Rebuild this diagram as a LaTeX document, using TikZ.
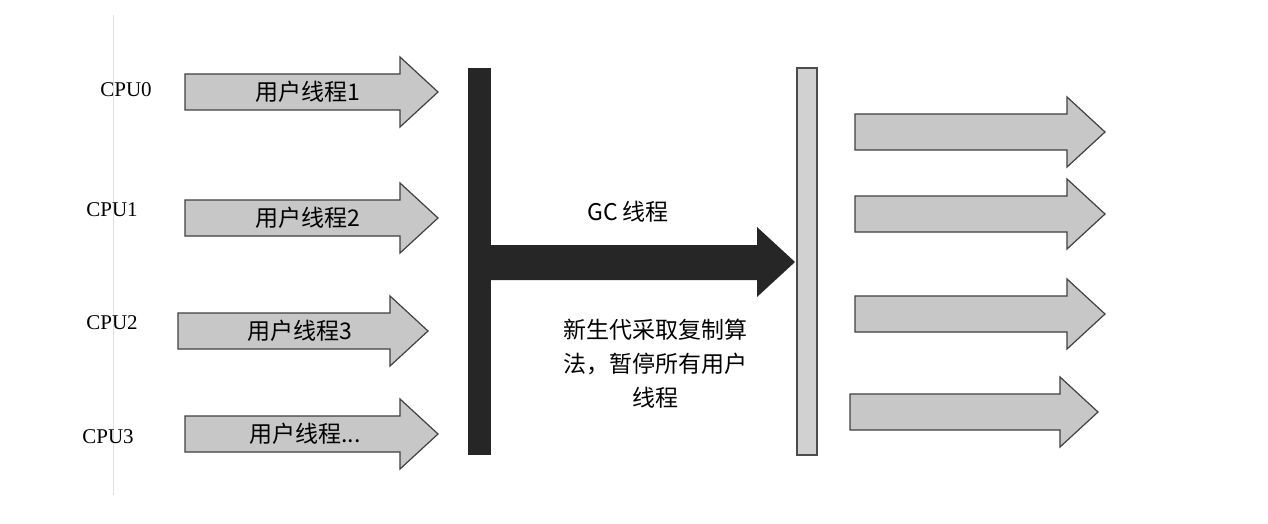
\documentclass[tikz,border=0pt]{standalone}
\usepackage{fontspec}
\setmainfont{Liberation Serif}
\newfontfamily\cjk{Noto Sans CJK SC}
\begin{document}
\begin{tikzpicture}[x=1pt,y=-1pt,
  garrow/.style={fill=black!22,draw=black!75,line width=1.2pt},
  lbl/.style={font=\cjk\fontsize{23}{26}\selectfont,inner sep=0},
  cpu/.style={font=\fontsize{21}{23}\selectfont,inner sep=0}]
\useasboundingbox (0,0) rectangle (1268,524);
\fill[white] (0,0) rectangle (1268,524);
\draw[black!12,line width=1pt] (113,15) -- (113,495);
\newcommand\garr[3]{\draw[garrow] (#1,#3-18) -- (#2-38,#3-18) -- (#2-38,#3-35) -- (#2,#3) -- (#2-38,#3+35) -- (#2-38,#3+18) -- (#1,#3+18) -- cycle;}
\garr{185}{438}{92}
\garr{185}{438}{218}
\garr{178}{428}{331}
\garr{185}{438}{434}
\garr{855}{1105}{132}
\garr{855}{1105}{214}
\garr{855}{1105}{314}
\garr{850}{1098}{412}
\node[cpu] (c0) at (126,90) {CPU0};
\node[cpu] (c1) at (112,210) {CPU1};
\node[cpu] (c2) at (112,323) {CPU2};
\node[cpu] (c3) at (108,437) {CPU3};
\node[lbl] (t1) at (308,92) {用户线程1};
\node[lbl] (t2) at (308,218) {用户线程2};
\node[lbl] (t3) at (300,331) {用户线程3};
\node[lbl] (t4) at (305,434) {用户线程...};
\fill[black!85] (468,68) rectangle (491,455);
\draw[fill=black!18,draw=black!70,line width=1.2pt] (797,68) rectangle (817,455);
\fill[black!85] (491,245) -- (757,245) -- (757,227) -- (795,262) -- (757,297) -- (757,280) -- (491,280) -- cycle;
\node[lbl] (gc) at (628,212) {GC 线程};
\node[lbl,align=center,font=\cjk\fontsize{23}{34}\selectfont] (d) at (655,364) {新生代采取复制算\\法，暂停所有用户\\线程};
\end{tikzpicture}
\end{document}
